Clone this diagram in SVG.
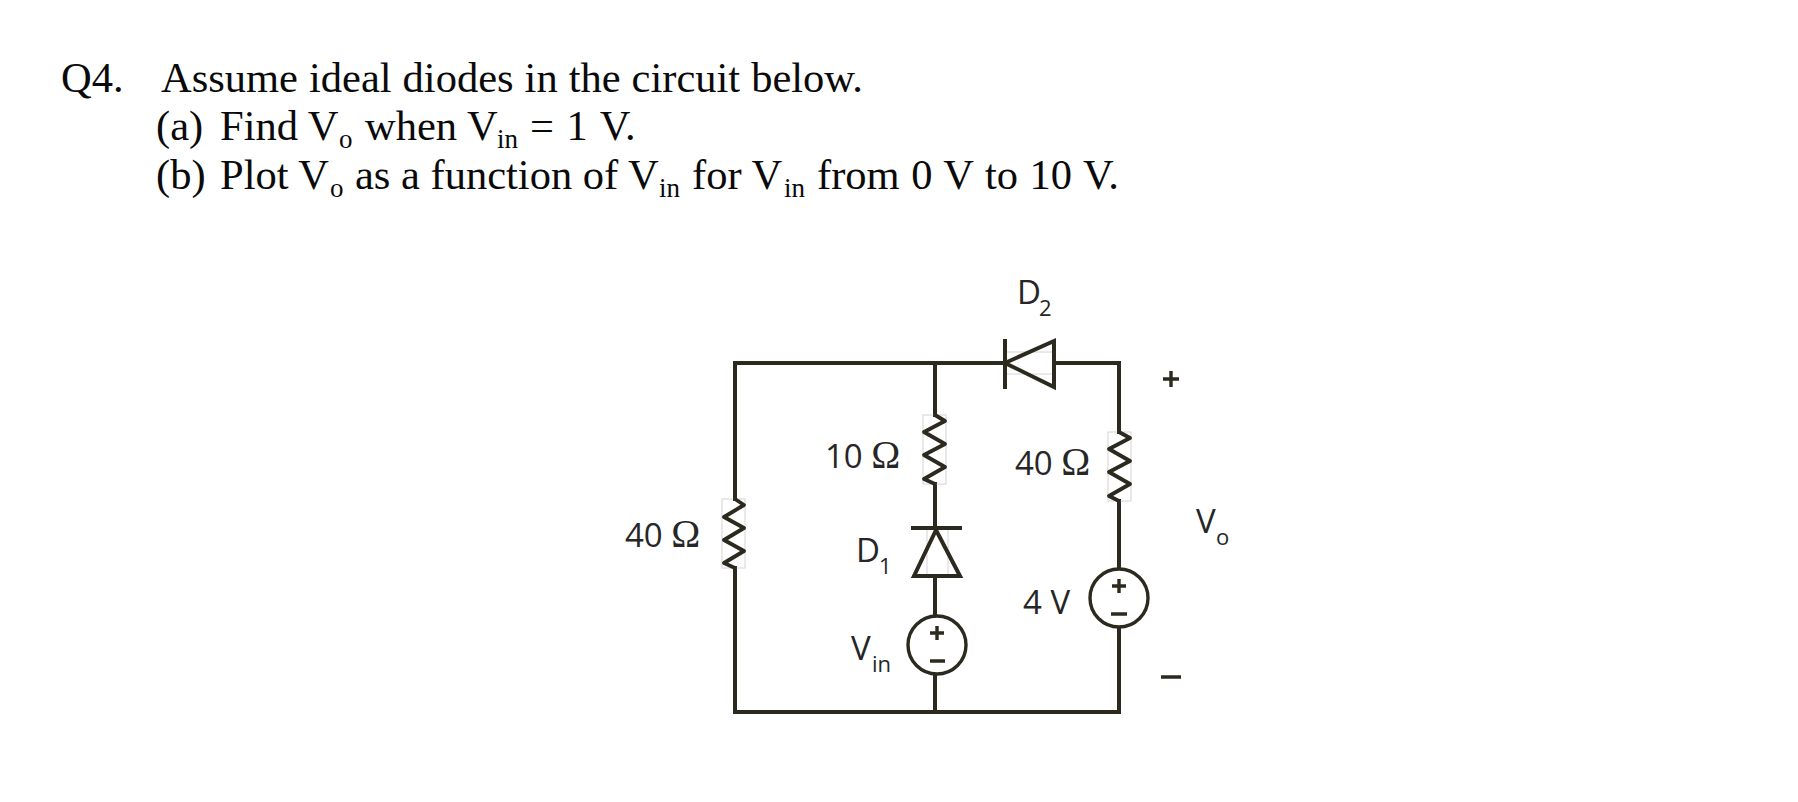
<svg xmlns="http://www.w3.org/2000/svg" width="1798" height="802" viewBox="0 0 1798 802">
<style>
.q{font-family:"Liberation Serif","Times New Roman",serif;font-size:42.5px;fill:#0a0a0a}
.qs{font-family:"Liberation Serif","Times New Roman",serif;font-size:27px;fill:#0a0a0a}
.l{font-family:"Open Sans","Noto Sans",sans-serif;font-size:33px;fill:#262626}
.ls{font-family:"Open Sans","Noto Sans",sans-serif;font-size:22px;fill:#262626}
.o{font-family:"Liberation Serif",serif;font-size:39px;fill:#262626}
.w{fill:none;stroke:#2c2a1f;stroke-width:4;stroke-linejoin:miter;stroke-linecap:square}
.z{fill:none;stroke:#2c2a1f;stroke-width:3.8;stroke-linejoin:round;stroke-linecap:round}
.b{fill:none;stroke:#d4d4d4;stroke-width:1}
.c{fill:#fff;stroke:#2c2a1f;stroke-width:3.4}
.m{fill:none;stroke:#2c2a1f;stroke-width:3.4}
</style>
<rect width="1798" height="802" fill="#fff"/>
<g id="question">
<text class="q" x="61" y="92">Q4.</text>
<text class="q" x="161" y="92" word-spacing="0.4">Assume ideal diodes in the circuit below.</text>
<text class="q" x="156" y="140">(a)</text>
<text class="q" x="220" y="140">Find V</text>
<text class="qs" x="339" y="148">o</text>
<text class="q" x="365" y="140">when V</text>
<text class="qs" x="497" y="148">in</text>
<text class="q" x="530" y="140" word-spacing="2">= 1 V.</text>
<text class="q" x="156" y="189">(b)</text>
<text class="q" x="220" y="189">Plot V</text>
<text class="qs" x="330" y="197">o</text>
<text class="q" x="355" y="189">as a function of V</text>
<text class="qs" x="659" y="197">in</text>
<text class="q" x="692" y="189">for V</text>
<text class="qs" x="784" y="197">in</text>
<text class="q" x="817" y="189" word-spacing="1">from 0 V to 10 V.</text>
</g>
<g id="connectors">
<path class="w" d="M735 499V363H1005"/>
<path class="w" d="M1054 363H1119V432"/>
<path class="w" d="M1119 501V569"/>
<path class="w" d="M1119 627V712H735V568"/>
<path class="w" d="M935 363V415"/>
<path class="w" d="M935 484V528"/>
<path class="w" d="M935 576V616"/>
<path class="w" d="M935 674V712"/>
</g>
<g id="r-left">
<rect class="b" x="722" y="499" width="23" height="69"/>
<path class="z" d="M735 499L744 505L724 517L744 528L724 540L744 551L724 563L735 568"/>
</g>
<g id="r-middle">
<rect class="b" x="923" y="415" width="23" height="69"/>
<path class="z" d="M935 415L945 421L924 432L945 444L924 455L945 467L924 479L935 484"/>
</g>
<g id="r-right">
<rect class="b" x="1108" y="432" width="23" height="69"/>
<path class="z" d="M1119 432L1130 438L1109 449L1130 461L1109 472L1130 484L1109 496L1119 501"/>
</g>
<g id="d2">
<rect class="b" x="1005" y="352" width="49" height="22"/>
<path class="w" d="M1005 341V387M1005 363L1054 341V387Z"/>
</g>
<g id="d1">
<rect class="b" x="927" y="528" width="21" height="49"/>
<path class="w" d="M913 528H960M936 530L914 576H960Z"/>
</g>
<g id="vin">
<circle class="c" cx="937" cy="645" r="29"/>
<path class="m" d="M930 633H944M937 626V640M930 661H945"/>
</g>
<g id="v4">
<circle class="c" cx="1119" cy="598" r="29"/>
<path class="m" d="M1112 586H1126M1119 579V593M1111 614H1127"/>
</g>
<g id="labels">
<text class="l" x="625" y="547">40 <tspan class="o">Ω</tspan></text>
<text class="l" x="825" y="468">10 <tspan class="o">Ω</tspan></text>
<text class="l" x="1015" y="475">40 <tspan class="o">Ω</tspan></text>
<text class="l" x="1017" y="304">D</text><text class="ls" x="1039" y="316">2</text>
<text class="l" x="856" y="562">D</text><text class="ls" x="879" y="574">1</text>
<text class="l" x="851" y="660">V</text><text class="ls" x="872" y="672">in</text>
<text class="l" x="1023" y="614">4 V</text>
<text class="l" x="1196" y="533">V</text><text class="ls" x="1216" y="545">o</text>
<path class="m" d="M1163 379H1179M1171 371V387M1161 677H1181"/>
</g>
</svg>
